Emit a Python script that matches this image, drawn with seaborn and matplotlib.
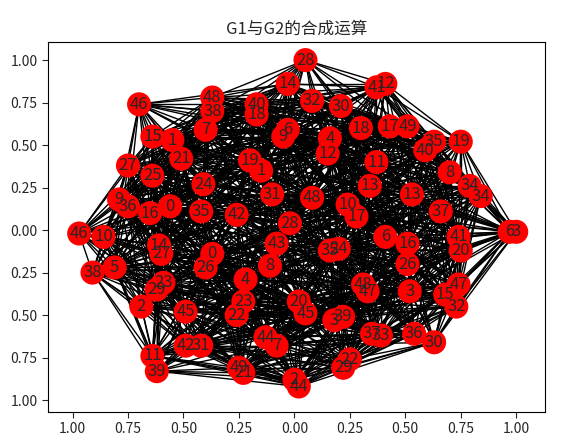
import numpy as np
import pandas as pd
import seaborn as sns
import matplotlib.pyplot as plt
from matplotlib.collections import LineCollection
from matplotlib.ticker import FuncFormatter

sns.set_style("white")
plt.rcParams['font.family'] = ['Noto Sans CJK SC', 'DejaVu Sans']

labels = [28, 14, 41, 12, 46, 48, 40, 32, 30, 38, 18, 7, 17, 49, 18, 6, 9, 15, 1, 4,
          35, 19, 40, 21, 12, 19, 1, 11, 27, 8, 25, 24, 13, 34, 31, 48, 13, 34, 9, 0,
          36, 16, 35, 42, 10, 17, 37, 28, 46, 10, 6, 3, 41, 6, 43, 16, 14, 27, 35, 24,
          20, 0, 26, 26, 8, 5, 38, 23, 29, 4, 47, 48, 47, 3, 15, 32, 2, 23, 45, 20,
          45, 22, 39, 3, 37, 33, 36, 44, 7, 30, 42, 31, 11, 22, 29, 49, 21, 39, 2, 44]
xs = [0.05, -0.03, 0.37, 0.41, -0.70, -0.37, -0.17, 0.08, 0.21, -0.37, -0.17, -0.40, 0.43, 0.51, 0.30, -0.03, -0.05, -0.64, -0.55, 0.16,
      0.63, 0.75, 0.59, -0.51, 0.15, -0.20, -0.15, 0.37, -0.75, 0.70, -0.64, -0.41, 0.34, 0.79, -0.10, 0.08, 0.53, 0.84, -0.79, -0.56,
      -0.75, -0.65, -0.42, -0.26, 0.24, 0.28, 0.66, -0.02, -0.97, -0.86, 0.97, 1.00, 0.74, 0.41, -0.08, 0.51, -0.61, -0.60, 0.16, 0.20,
      0.75, -0.37, -0.40, 0.51, -0.11, -0.81, -0.91, -0.59, -0.62, -0.22, 0.74, 0.31, 0.33, 0.52, 0.68, 0.73, -0.69, -0.23, -0.49, 0.02,
      0.05, -0.26, 0.22, 0.18, 0.35, 0.39, 0.54, -0.13, -0.08, 0.63, -0.49, -0.42, -0.64, 0.25, 0.22, -0.25, -0.23, -0.62, 0.00, 0.02]
ys = [1.00, 0.86, 0.84, 0.86, 0.74, 0.78, 0.74, 0.76, 0.73, 0.70, 0.68, 0.59, 0.61, 0.61, 0.60, 0.59, 0.55, 0.55, 0.53, 0.54,
      0.52, 0.52, 0.47, 0.42, 0.45, 0.41, 0.35, 0.40, 0.38, 0.34, 0.32, 0.27, 0.26, 0.26, 0.21, 0.19, 0.21, 0.20, 0.18, 0.14,
      0.14, 0.10, 0.11, 0.09, 0.15, 0.08, 0.11, 0.04, -0.02, -0.04, -0.01, -0.01, -0.04, -0.04, -0.08, -0.08, -0.09, -0.14, -0.12, -0.11,
      -0.12, -0.14, -0.22, -0.20, -0.21, -0.22, -0.25, -0.31, -0.35, -0.29, -0.32, -0.32, -0.36, -0.36, -0.38, -0.45, -0.45, -0.42, -0.48, -0.42,
      -0.49, -0.50, -0.51, -0.53, -0.61, -0.62, -0.61, -0.63, -0.68, -0.66, -0.68, -0.68, -0.74, -0.76, -0.81, -0.81, -0.84, -0.83, -0.88, -0.92]

nodes = pd.DataFrame({"label": labels, "x": xs, "y": ys})

# dense edge set: link node pairs that sit close together
pts = nodes[["x", "y"]].to_numpy()
segs = [(pts[i], pts[j]) for i in range(len(pts)) for j in range(i + 1, len(pts))
        if np.hypot(*(pts[i] - pts[j])) < 0.75]

fig, ax = plt.subplots(figsize=(5.66, 4.43), dpi=100)
ax.add_collection(LineCollection(segs, colors="black", linewidths=1.0, zorder=1))
sns.scatterplot(data=nodes, x="x", y="y", s=300, color="red", edgecolor="none", ax=ax, zorder=2)
for lab, x, y in zip(labels, xs, ys):
    ax.text(x, y, str(lab), ha="center", va="center", fontsize=12, zorder=3)

ax.set_xlim(-1.11, 1.13)
ax.set_ylim(-1.07, 1.106)
ax.set_xticks(np.arange(-1, 1.01, 0.25))
ax.set_yticks(np.arange(-1, 1.01, 0.25))
fmt = FuncFormatter(lambda v, p: f"{abs(v):.2f}")
ax.xaxis.set_major_formatter(fmt)
ax.yaxis.set_major_formatter(fmt)
ax.tick_params(axis="both", length=4, direction="out", bottom=True, left=True, labelsize=10)
for s in ax.spines.values():
    s.set_color("black")
ax.set_xlabel("")
ax.set_ylabel("")
ax.set_title("G1与G2的合成运算", fontsize=12)
fig.subplots_adjust(left=0.085, right=0.963, top=0.905, bottom=0.07)
fig.savefig("out.png")
